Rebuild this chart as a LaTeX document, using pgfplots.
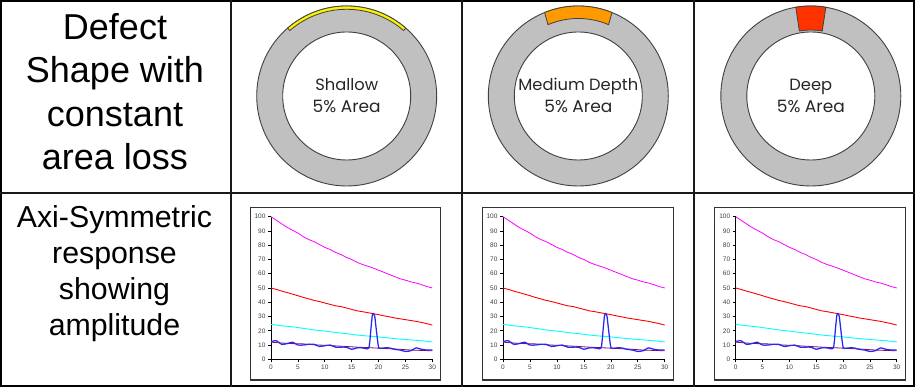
\documentclass[border=0pt]{standalone}
\usepackage{fontspec}
\setmainfont{Liberation Sans}
\newfontfamily\ringfont{Poppins}
\usepackage{pgfplots}
\usepackage{pgfplotstable}
\pgfplotsset{compat=1.18}
\pgfplotstableread{
x y
0 100
1 97.5
2 95
3 92.5
4 90.5
5 88.5
6 86
7 84
8 82.5
9 80.5
10 78.5
11 77
12 75
13 73.5
14 71.5
15 70
16 68
17 66.5
18 65.3
19 64
20 62.5
21 61
22 59.5
23 58
24 56.5
25 55.5
26 54.3
27 53.5
28 52.3
29 51
30 50
}\magentatable
\pgfplotstableread{
x y
0 50
1 49
2 47.8
3 46.8
4 45.7
5 44.6
6 43.4
7 42.4
8 41.3
9 40.5
10 39.5
11 38.5
12 37.5
13 37
14 36
15 35
16 34
17 33.4
18 32.7
19 32
20 31.3
21 30.5
22 29.8
23 29
24 28.4
25 27.8
26 27.2
27 26.6
28 25.8
29 25
30 24
}\redtable
\pgfplotstableread{
x y
0 24.5
2 23.5
4 22.8
6 21.7
8 20.6
10 19.8
12 18.8
14 18
16 17
18 16.3
20 15.7
22 14.9
24 14.2
26 13.6
28 13
30 12.2
}\cyantable
\pgfplotstableread{
x y
0 12
2 11.4
4 11
6 10.8
8 10.2
10 9.8
12 9.4
14 9
16 8.5
18 8.2
20 7.8
22 7.4
24 7
26 6.5
28 6.2
30 6
}\purpletable
\pgfplotstableread{
x y
0 12.5
1 13
2 10.5
3 11
4 12
5 10
6 10
7 10.5
8 10.5
9 9
10 9.5
11 10
12 8.5
13 8.5
14 8.5
15 7
16 8
17 8
18.2 8
18.6 22
18.85 31
19.05 32
19.3 30
19.7 17
20.05 8
21 8
22 8
23 7
24 6.5
25 5.5
26 6
27 8
28 7
29 6.5
30 6.5
}\bluetable
\definecolor{linepurple}{HTML}{8A0A55}
\definecolor{linemagenta}{HTML}{FF00FF}
\definecolor{linecyan}{HTML}{00FFFF}
\definecolor{linered}{HTML}{FF0000}
\definecolor{lineblue}{HTML}{2626F5}
\newcommand{\smallchart}[2]{%
\begin{axis}[
  at={(#1pt,27.7pt)}, anchor=south west, scale only axis,
  width=#2pt, height=142.6pt,
  xmin=0, xmax=30, ymin=0, ymax=100,
  axis lines=left, axis line style={-, line width=0.9pt, black},
  tick align=outside, major tick length=3pt,
  tick style={line width=0.6pt, black},
  xtick={0,5,...,30}, ytick={0,10,...,100},
  tick label style={font=\fontsize{6.5}{7}\selectfont, text=black!75},
  xticklabel style={yshift=1pt},
  yticklabel style={xshift=1pt},
  /pgf/number format/assume math mode=true,
  clip=false,
]
\addplot[no marks, line width=0.8pt, linemagenta] table {\magentatable};
\addplot[no marks, line width=0.9pt, linered] table {\redtable};
\addplot[no marks, line width=0.9pt, linecyan] table {\cyantable};
\addplot[no marks, line width=0.8pt, linepurple] table {\purpletable};
\addplot[no marks, line width=1.25pt, lineblue, smooth, tension=0.35] table {\bluetable};
\end{axis}}
\definecolor{ringgray}{HTML}{C0C0C0}
\definecolor{ringline}{HTML}{404040}
\newcommand{\ring}[1]{%
  \fill[ringgray,draw=ringline,line width=0.9pt,even odd rule] (#1,291) circle[radius=90] (#1,291) circle[radius=64];
}
\newcommand{\ringtext}[3]{%
  \node[anchor=base,inner sep=0pt,text=black!85] at (#1,296.3) {\ringfont\fontsize{#3}{18}\selectfont #2};
  \node[anchor=base,inner sep=0pt,text=black!85] at (#1,274) {\ringfont\fontsize{17}{18}\selectfont 5\% Area};
}
\begin{document}
\begin{tikzpicture}[x=1pt,y=1pt]
\useasboundingbox (0,0) rectangle (915,387);
% table
\draw[black,line width=2pt] (1,1) rectangle (914,386);
\draw[black!90,line width=1.7pt] (230.7,0) -- (230.7,387) (462,0) -- (462,387) (694,0) -- (694,387) (0,194.3) -- (915,194.3);
% left column
\foreach \t/\b in {Defect/347.5,Shape with/304,constant/260,area loss/217}{
  \node[anchor=base,inner sep=0pt] at (115,\b) {\fontsize{36}{40}\selectfont \t};
}
\foreach \t/\b in {Axi-Symmetric/159.7,response/123,showing/87,amplitude/51}{
  \node[anchor=base,inner sep=0pt] at (114.5,\b) {\fontsize{30.3}{34}\selectfont \t};
}
% rings
\ring{346.7}
\fill[yellow,draw=ringline,line width=0.8pt] (346.7,291) ++(49:90) arc[start angle=49,end angle=131,radius=90] -- ++(-49:3.3) arc[start angle=131,end angle=49,radius=86.7] -- cycle;
\ringtext{346.7}{Shallow}{16.3}
\ring{578.3}
\fill[color={rgb,255:red,255;green,153;blue,0},draw=ringline,line width=0.8pt] ([shift={(68:90)}]578.3,291) arc[start angle=68,end angle=112,radius=90] -- ([shift={(113:77.5)}]578.3,291) arc[start angle=113,end angle=67,radius=77.5] -- cycle;
\ringtext{578.3}{Medium Depth}{16.3}
\ring{810.8}
\fill[color={rgb,255:red,255;green,51;blue,0},draw=ringline,line width=0.8pt] ([shift={(80.4:90)}]810.8,291) arc[start angle=80.4,end angle=99.6,radius=90] -- ([shift={(100:66)}]810.8,291) arc[start angle=100,end angle=80,radius=66] -- cycle;
\ringtext{810.8}{Deep}{16.3}
% chart frames
\draw[black!80,line width=1.2pt,fill=white] (250.7,7) rectangle (440.7,179.3);
\draw[black!80,line width=1.2pt,fill=white] (482.7,7) rectangle (673.7,179.3);
\draw[black!80,line width=1.2pt,fill=white] (714.7,7) rectangle (905.7,179.3);
\smallchart{271}{161.3}
\smallchart{503}{161.7}
\smallchart{735.7}{161}
\end{tikzpicture}
\end{document}
